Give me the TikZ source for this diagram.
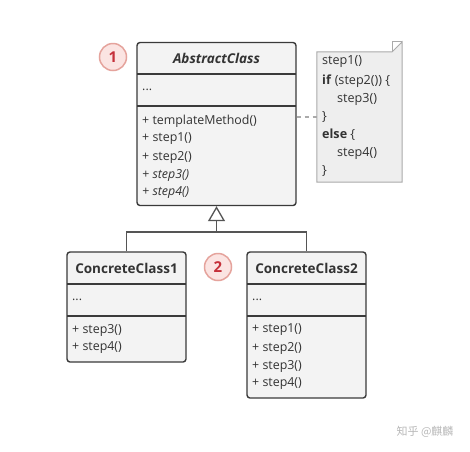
\documentclass[tikz,border=0pt]{standalone}
\usepackage{fontspec}
\setmainfont{Open Sans}
\newfontfamily\cjk{Noto Sans CJK SC}
\usetikzlibrary{arrows.meta}
\definecolor{boxfill}{HTML}{F3F3F3}
\definecolor{boxline}{HTML}{3A3A3A}
\definecolor{txt}{HTML}{333333}
\definecolor{notefill}{HTML}{EEEEEE}
\definecolor{noteline}{HTML}{AAAAAA}
\definecolor{circfill}{HTML}{FBE4E2}
\definecolor{circline}{HTML}{E5A39C}
\definecolor{circtxt}{HTML}{C5303A}
\definecolor{conn}{HTML}{555555}
\tikzset{
  classbox/.style={draw=boxline, fill=boxfill, line width=1.4pt, rounded corners=3pt, inner sep=0pt},
  divider/.style={draw=boxline, line width=1.4pt},
  member/.style={anchor=west, inner sep=0pt, text=txt, font=\fontsize{12.4}{14}\selectfont},
  header/.style={inner sep=0pt, text=txt, font=\fontsize{13.5}{16}\selectfont\bfseries},
  notetext/.style={anchor=west, inner sep=0pt, text=txt, font=\fontsize{12.6}{14}\selectfont},
  badge/.style={circle, draw=circline, fill=circfill, line width=1.5pt, minimum size=27pt, inner sep=0pt, text=circtxt, font=\fontsize{15}{18}\selectfont\bfseries},
  connector/.style={draw=conn, line width=1.3pt},
}
\begin{document}
\begin{tikzpicture}[x=1pt,y=-1pt]
\useasboundingbox[fill=white] (0,0) rectangle (470,451);

% AbstractClass
\node[classbox, minimum width=159pt, minimum height=163pt] (ac) at (216.5,124) {};
\draw[divider] (137,74) -- (296,74);
\draw[divider] (137,106) -- (296,106);
\node[header, font=\fontsize{13.5}{16}\selectfont\bfseries\itshape] (acname) at (216.5,58) {AbstractClass};
\node[member] (acattr) at (142,90) {...};
\node[member] (acm1) at (142,121) {+ templateMethod()};
\node[member] (acm2) at (142,139) {+ step1()};
\node[member] (acm3) at (142,157) {+ step2()};
\node[member, font=\fontsize{12.4}{14}\selectfont\itshape] (acm4) at (142,175) {+ step3()};
\node[member, font=\fontsize{12.4}{14}\selectfont\itshape] (acm5) at (142,193) {+ step4()};

% ConcreteClass1
\node[classbox, minimum width=119pt, minimum height=110pt] (cc1) at (126.5,307) {};
\draw[divider] (67,284) -- (186,284);
\draw[divider] (67,316) -- (186,316);
\node[header] (cc1name) at (126.5,268) {ConcreteClass1};
\node[member] (cc1attr) at (72,300) {...};
\node[member] (cc1m1) at (72,330) {+ step3()};
\node[member] (cc1m2) at (72,348) {+ step4()};

% ConcreteClass2
\node[classbox, minimum width=119pt, minimum height=146pt] (cc2) at (306.5,325) {};
\draw[divider] (247,284) -- (366,284);
\draw[divider] (247,316) -- (366,316);
\node[header] (cc2name) at (306.5,268) {ConcreteClass2};
\node[member] (cc2attr) at (252,300) {...};
\node[member] (cc2m1) at (252,330) {+ step1()};
\node[member] (cc2m2) at (252,348) {+ step2()};
\node[member] (cc2m3) at (252,366) {+ step3()};
\node[member] (cc2m4) at (252,384) {+ step4()};

% inheritance
\coordinate (j) at (216.5,232);
\draw[connector] (cc1.north) |- (j) -| (cc2.north);
\draw[connector, -{Triangle[open, width=17pt, length=15pt, line width=1.3pt]}] (j) -- (ac.south);

% note
\node[minimum width=85pt, minimum height=130pt, inner sep=0pt] (note) at (359.5,117) {};
\draw[draw=noteline, fill=notefill, line width=1pt]
  (note.north west) -- ([xshift=-10pt]note.north east) -- ([yshift=10pt]note.north east)
  -- (note.south east) -- (note.south west) -- cycle;
\draw[draw=noteline, line width=1pt]
  ([xshift=-10pt]note.north east) -- ([xshift=-10pt,yshift=10pt]note.north east) -- ([yshift=10pt]note.north east);
\draw[draw=noteline, line width=1.2pt, dash pattern=on 4pt off 4pt] (note.west -| ac.east) -- (note.west);
\node[notetext] (n1) at (322,62) {step1()};
\node[notetext] (n2) at (322,81) {\textbf{if} (step2()) \{};
\node[notetext] (n3) at (337,99) {step3()};
\node[notetext] (n4) at (322,117) {\}};
\node[notetext] (n5) at (322,135) {\textbf{else} \{};
\node[notetext] (n6) at (337,153) {step4()};
\node[notetext] (n7) at (322,171) {\}};

% badges
\node[badge] (b1) at (113,57) {1};
\node[badge] (b2) at (218,267) {2};

% watermark
\node[inner sep=0pt, text=black!28, font=\cjk\fontsize{11}{13}\selectfont] (wm) at (425,432) {知乎 @麒麟};
\end{tikzpicture}
\end{document}
